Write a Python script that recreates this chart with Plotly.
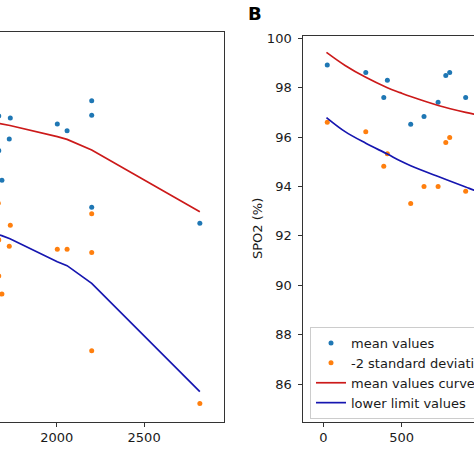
import plotly.graph_objects as go

# ---------------- Panel A (left, cropped) ----------------
a_mean_x = [1668, 1668, 1686, 1734, 1728, 2003, 2059, 2200, 2200, 2200, 2819]
a_mean_y = [93.69, 91.91, 90.39, 93.59, 92.51, 93.28, 92.93, 94.47, 93.73, 89.00, 88.18]

a_sd_x = [1665, 1668, 1668, 1686, 1734, 1728, 2003, 2059, 2200, 2200, 2200, 2819]
a_sd_y = [89.21, 87.33, 85.48, 84.55, 88.08, 87.00, 86.85, 86.85, 88.67, 86.69, 81.64, 78.94]

a_curve_x = [1668, 1685, 1732, 2003, 2059, 2200, 2819]
a_mean_curve = [93.31, 93.29, 93.20, 92.63, 92.49, 91.94, 88.78]
a_lower_curve = [87.59, 87.55, 87.39, 86.21, 86.01, 85.10, 79.54]

# ---------------- Panel B (right) ----------------
b_x = [25, 271, 386, 409, 558, 643, 733, 782, 807, 909]
b_mean_y = [98.92, 98.61, 97.60, 98.30, 96.52, 96.83, 97.41, 98.49, 98.61, 97.60]
b_sd_y = [96.60, 96.21, 94.82, 95.32, 93.31, 94.00, 94.00, 95.78, 95.98, 93.81]

b_curve_x = [20, 139, 271, 409, 490, 558, 734, 909, 962, 1050]
b_mean_curve = [99.43, 98.90, 98.42, 98.00, 97.80, 97.64, 97.28, 97.00, 96.93, 96.83]
b_lower_curve = [96.79, 96.22, 95.75, 95.31, 95.04, 94.84, 94.40, 93.98, 93.85, 93.66]

legend_names = ["mean values", "-2 standard deviation", "mean values curve", "lower limit values"]

BLUE_PT = "#1f77b4"
ORANGE_PT = "#ff7f0e"
RED = "#cc1a1a"
BLUE = "#1616b0"
FONT = "DejaVu Sans"

fig = go.Figure()

# Panel A
fig.add_trace(go.Scatter(x=a_mean_x, y=a_mean_y, mode="markers", marker=dict(color=BLUE_PT, size=5),
                         xaxis="x", yaxis="y", showlegend=False))
fig.add_trace(go.Scatter(x=a_sd_x, y=a_sd_y, mode="markers", marker=dict(color=ORANGE_PT, size=5),
                         xaxis="x", yaxis="y", showlegend=False))
fig.add_trace(go.Scatter(x=a_curve_x, y=a_mean_curve, mode="lines", line=dict(color=RED, width=1.7),
                         xaxis="x", yaxis="y", showlegend=False))
fig.add_trace(go.Scatter(x=a_curve_x, y=a_lower_curve, mode="lines", line=dict(color=BLUE, width=1.7),
                         xaxis="x", yaxis="y", showlegend=False))

# Panel B
fig.add_trace(go.Scatter(x=b_x, y=b_mean_y, mode="markers", marker=dict(color=BLUE_PT, size=5),
                         xaxis="x2", yaxis="y2", name=legend_names[0]))
fig.add_trace(go.Scatter(x=b_x, y=b_sd_y, mode="markers", marker=dict(color=ORANGE_PT, size=5),
                         xaxis="x2", yaxis="y2", name=legend_names[1]))
fig.add_trace(go.Scatter(x=b_curve_x, y=b_mean_curve, mode="lines", line=dict(color=RED, width=1.7, shape="spline"),
                         xaxis="x2", yaxis="y2", name=legend_names[2]))
fig.add_trace(go.Scatter(x=b_curve_x, y=b_lower_curve, mode="lines", line=dict(color=BLUE, width=1.7, shape="spline"),
                         xaxis="x2", yaxis="y2", name=legend_names[3]))

axis_common = dict(showgrid=False, zeroline=False, linecolor="#333333", linewidth=1,
                   tickcolor="#333333", ticklen=4, tickwidth=1,
                   tickfont=dict(family=FONT, size=13, color="#1a1a1a"))

W = 474.0
fig.update_layout(
    width=474, height=474,
    margin=dict(l=0, r=0, t=0, b=0, autoexpand=False),
    paper_bgcolor="white", plot_bgcolor="white",
    font=dict(family=FONT, size=13, color="#1a1a1a"),
    xaxis=dict(domain=[0, 224.3 / W], range=[1675, 2959], dtick=500, tick0=0,
               showline=True, mirror=True, ticks="outside", anchor="y", **axis_common),
    yaxis=dict(domain=[(W - 421.7) / W, (W - 32) / W], range=[78, 98], side="right",
               showline=True, mirror=False, ticks="", showticklabels=False, anchor="x",
               showgrid=False, zeroline=False, linecolor="#333333", linewidth=1),
    xaxis2=dict(domain=[303.3 / W, 1.0], range=[-128, 962.3], dtick=500, tick0=0,
                showline=True, mirror=True, ticks="outside", anchor="y2", **axis_common),
    yaxis2=dict(domain=[(W - 421.7) / W, (W - 36.3) / W], range=[84.474, 100.08], dtick=2, tick0=0,
                showline=True, mirror=True, ticks="outside", anchor="x2", ticklabelstandoff=4,
                **axis_common),
    legend=dict(x=310 / W, y=(W - 327) / W, xanchor="left", yanchor="top",
                bgcolor="white", bordercolor="#cccccc", borderwidth=1,
                font=dict(family=FONT, size=13, color="#1a1a1a"), tracegroupgap=0,
                itemwidth=30),
    annotations=[
        dict(text="<b>B</b>", x=254.5 / W, y=(W - 14) / W, xref="paper", yref="paper",
             showarrow=False, font=dict(family=FONT, size=18, color="black"),
             xanchor="center", yanchor="middle"),
        dict(text="SPO2 (%)", x=257 / W, y=(W - 229) / W, xref="paper", yref="paper",
             showarrow=False, textangle=-90, font=dict(family=FONT, size=13, color="#1a1a1a"),
             xanchor="center", yanchor="middle"),
    ],
)

fig.write_html("out.html")
